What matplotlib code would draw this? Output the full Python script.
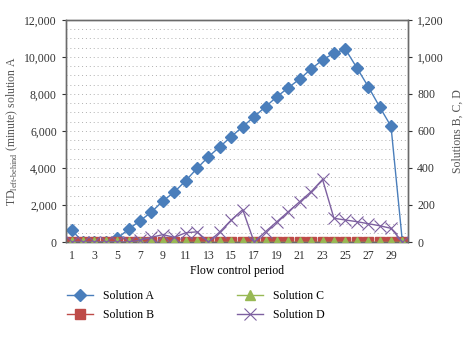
import matplotlib.pyplot as plt
from matplotlib.ticker import FuncFormatter, MultipleLocator
import numpy as np

plt.rcParams['font.family'] = ['Liberation Serif', 'DejaVu Serif']
plt.rcParams['font.size'] = 8.5

# ---- data ----
periods = np.arange(1, 31)
sol_a = [650, 0, 0, 0, 200, 690, 1150, 1620, 2215, 2700,
         3310, 3980, 4610, 5150, 5700, 6230, 6770, 7310, 7850, 8340,
         8810, 9350, 9840, 10200, 10420, 9420, 8400, 7310, 6250, 0]
sol_b = [0] * 30
sol_c = [0] * 30
sol_d = [0, 0, 0, 0, 0, 0, 10, 25, 40, 25,
         50, 55, 0, 55, 119, 175, 0, 56, 110, 164,
         218, 272, 338, 128, 119, 110, 99, 88, 74, 0]

col_a = '#4a7ebb'
col_b = '#be4b48'
col_c = '#98b954'
col_d = '#7d60a0'
grey = '#6b6b6b'

fig = plt.figure(figsize=(4.74, 3.38), dpi=100)
ax = fig.add_axes([0.139, 0.284, 0.722, 0.657])
ax2 = ax.twinx()

la, = ax.plot(periods, sol_a, color=col_a, lw=1, marker='D', ms=6.5,
              markeredgecolor=col_a, zorder=3)
lb, = ax2.plot(periods, sol_b, color=col_b, lw=1, marker='s', ms=6.5,
               markeredgecolor=col_b, zorder=2)
lc, = ax2.plot(periods, sol_c, color=col_c, lw=1, marker='^', ms=7,
               markeredgecolor=col_c, zorder=3)
ld, = ax2.plot(periods, sol_d, color=col_d, lw=1, marker='x', ms=8,
               markeredgewidth=0.8, zorder=4)

ax.set_xlim(0.5, 30.5)
ax.set_ylim(0, 12000)
ax2.set_ylim(0, 1200)
ax.set_xticks(np.arange(1, 30, 2))
ax.yaxis.set_major_locator(MultipleLocator(2000))
ax2.yaxis.set_major_locator(MultipleLocator(200))
fmt = FuncFormatter(lambda v, p: f'{int(v):,}')
ax.yaxis.set_major_formatter(fmt)
ax2.yaxis.set_major_formatter(fmt)

# dotted background grid
for yv in np.arange(500, 12000, 500):
    ax.axhline(yv, color='#b0b0b0', lw=0.7, ls=(0, (1, 3)), zorder=0)

for a in (ax, ax2):
    for s in a.spines.values():
        s.set_color(grey)
        s.set_linewidth(1)
    a.tick_params(colors='#333333', length=3, width=0.8, labelsize=8.5)
ax.tick_params(axis='x', length=0, pad=6)

ax.set_xlabel('Flow control period', fontsize=8.5, labelpad=2)
ax.set_ylabel('TD$_{\\mathregular{left\\text{-}behind}}$ (minute) solution A',
              fontsize=8.5, color='#555555', labelpad=3)
ax2.set_ylabel('Solutions B, C, D', fontsize=8.5, color='#555555', labelpad=6)

fig.legend([la, lb, lc, ld], ['Solution A', 'Solution B', 'Solution C', 'Solution D'],
           loc='upper left', bbox_to_anchor=(0.132, 0.155), ncol=2,
           frameon=False, fontsize=8.5, handlelength=2.2, columnspacing=7.0,
           labelspacing=0.55, handletextpad=0.85, borderaxespad=0)

fig.savefig('out.png', dpi=100)
